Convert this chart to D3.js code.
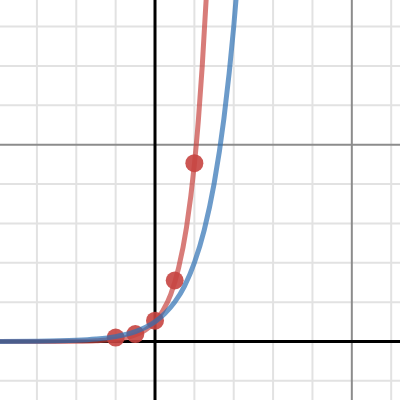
<!DOCTYPE html>
<html>
<head>
<meta charset="utf-8">
<script src="https://cdn.jsdelivr.net/npm/d3@7"></script>
<style>
  html, body { margin: 0; padding: 0; background: #fff; }
  svg { display: block; }
</style>
</head>
<body>
<div id="chart"></div>
<script>
// data
const pointX = [-1, -0.5, 0, 0.5, 1];
const pointY = [0.1, 0.19, 0.53, 1.55, 4.53];

const redX = [-4, -3, -2, -1.5, -1, -0.75, -0.5, -0.25, 0, 0.2, 0.4, 0.6, 0.8, 1.0, 1.1, 1.2, 1.3, 1.4];
const redY = [0.0001, 0.0007, 0.006, 0.019, 0.056, 0.096, 0.167, 0.289, 0.5, 0.78, 1.2, 1.87, 2.9, 4.5, 5.6, 7.0, 8.7, 10.9];

const blueX = [-4, -3, -2, -1.5, -1, -0.5, 0, 0.25, 0.5, 0.75, 1, 1.25, 1.5, 1.75, 2, 2.1, 2.2];
const blueY = [0.002, 0.008, 0.031, 0.063, 0.125, 0.25, 0.5, 0.71, 1.0, 1.41, 2.0, 2.83, 4.0, 5.66, 8.0, 9.19, 10.6];

const width = 400;
const height = 400;

const svg = d3.select("#chart")
  .append("svg")
  .attr("width", width)
  .attr("height", height);

// one unit ~ 39.36px, origin at (155, 341.5)
const x = d3.scaleLinear().domain([-3.938, 6.224]).range([0, width]);
const y = d3.scaleLinear().domain([-1.486, 8.676]).range([height, 0]);

svg.append("defs").append("clipPath").attr("id", "clip")
  .append("rect").attr("width", width).attr("height", height);

// ── grid ──
const xs = d3.range(Math.ceil(x.domain()[0]), Math.floor(x.domain()[1]) + 1);
const ys = d3.range(Math.ceil(y.domain()[0]), Math.floor(y.domain()[1]) + 1);

const grid = svg.append("g");
grid.selectAll(".vminor").data(xs.filter(d => d % 5 !== 0)).join("line")
  .attr("x1", d => x(d)).attr("x2", d => x(d))
  .attr("y1", 0).attr("y2", height)
  .attr("stroke", "#e2e2e2").attr("stroke-width", 2);
grid.selectAll(".hminor").data(ys.filter(d => d % 5 !== 0)).join("line")
  .attr("y1", d => y(d)).attr("y2", d => y(d))
  .attr("x1", 0).attr("x2", width)
  .attr("stroke", "#e2e2e2").attr("stroke-width", 2);
grid.selectAll(".vmajor").data(xs.filter(d => d % 5 === 0 && d !== 0)).join("line")
  .attr("x1", d => x(d)).attr("x2", d => x(d))
  .attr("y1", 0).attr("y2", height)
  .attr("stroke", "#8c8c8c").attr("stroke-width", 2);
grid.selectAll(".hmajor").data(ys.filter(d => d % 5 === 0 && d !== 0)).join("line")
  .attr("y1", d => y(d)).attr("y2", d => y(d))
  .attr("x1", 0).attr("x2", width)
  .attr("stroke", "#8c8c8c").attr("stroke-width", 2);

// axes
svg.append("line")
  .attr("x1", 0).attr("x2", width)
  .attr("y1", y(0)).attr("y2", y(0))
  .attr("stroke", "#000").attr("stroke-width", 3);
svg.append("line")
  .attr("x1", x(0)).attr("x2", x(0))
  .attr("y1", 0).attr("y2", height)
  .attr("stroke", "#000").attr("stroke-width", 3);

// ── curves ──
const line = d3.line()
  .x(d => x(d[0]))
  .y(d => y(d[1]))
  .curve(d3.curveMonotoneX);

const plot = svg.append("g").attr("clip-path", "url(#clip)");

plot.append("path")
  .datum(d3.zip(redX, redY))
  .attr("d", line)
  .attr("fill", "none")
  .attr("stroke", "#c74440")
  .attr("stroke-opacity", 0.7)
  .attr("stroke-width", 5)
  .attr("stroke-linecap", "round");

plot.selectAll("circle").data(d3.zip(pointX, pointY)).join("circle")
  .attr("cx", d => x(d[0]))
  .attr("cy", d => y(d[1]))
  .attr("r", 9)
  .attr("fill", "#c74440")
  .attr("fill-opacity", 0.9);

plot.append("path")
  .datum(d3.zip(blueX, blueY))
  .attr("d", line)
  .attr("fill", "none")
  .attr("stroke", "#2d70b3")
  .attr("stroke-opacity", 0.7)
  .attr("stroke-width", 5)
  .attr("stroke-linecap", "round");
</script>
</body>
</html>
